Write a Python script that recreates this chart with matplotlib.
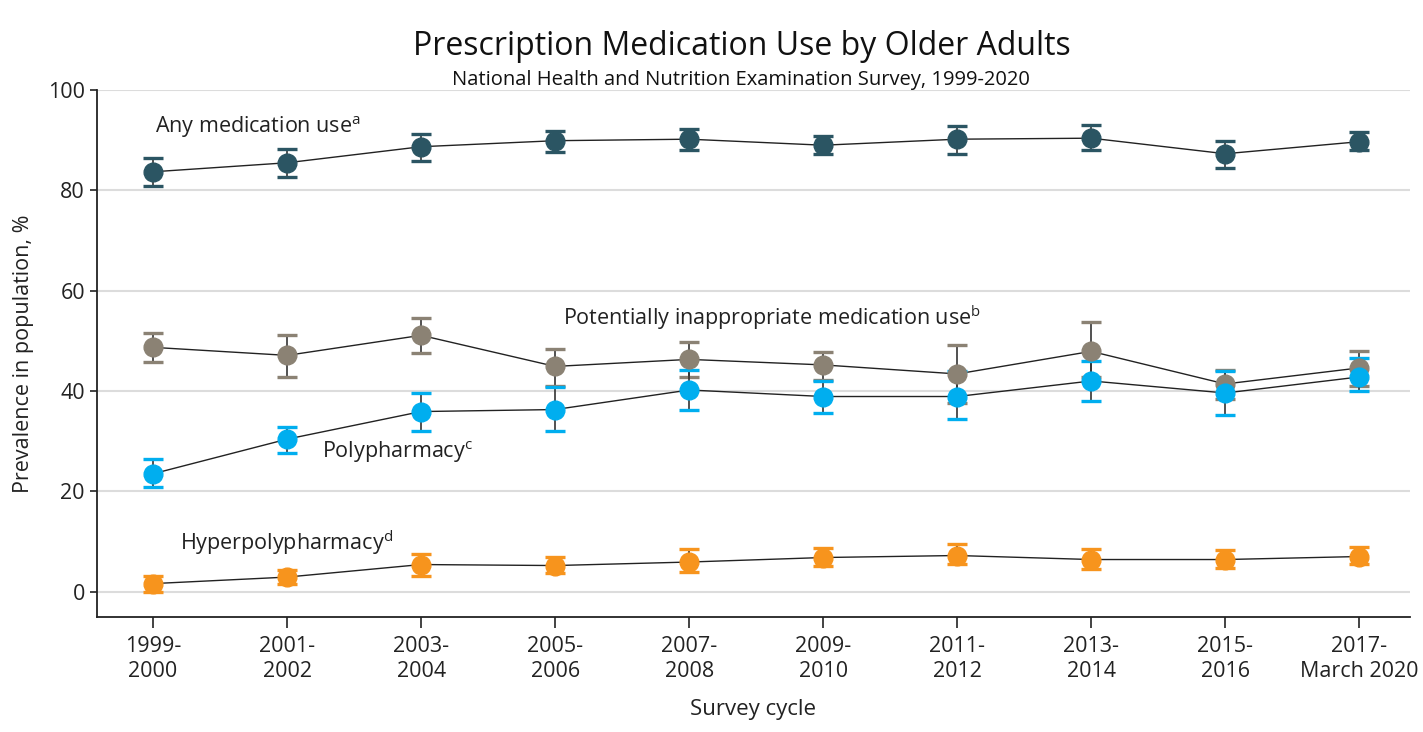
import numpy as np
import matplotlib.pyplot as plt

plt.rcParams['font.family'] = ['Open Sans', 'DejaVu Sans']
plt.rcParams['mathtext.fontset'] = 'custom'
plt.rcParams['mathtext.rm'] = 'Open Sans'

cycles = ["1999-\n2000", "2001-\n2002", "2003-\n2004", "2005-\n2006", "2007-\n2008",
          "2009-\n2010", "2011-\n2012", "2013-\n2014", "2015-\n2016", "2017-\nMarch 2020"]

any_med = [83.7, 85.5, 88.7, 89.9, 90.2, 89.0, 90.2, 90.4, 87.3, 89.7]
any_lo = [80.9, 82.7, 85.9, 87.6, 88.0, 87.2, 87.3, 88.0, 84.5, 88.0]
any_hi = [86.4, 88.2, 91.2, 91.8, 92.2, 90.8, 92.8, 93.0, 89.9, 91.6]

pim = [48.7, 47.1, 51.1, 44.9, 46.3, 45.2, 43.4, 47.9, 41.4, 44.6]
pim_lo = [45.8, 42.8, 47.5, 41.0, 42.8, 42.2, 37.7, 42.8, 38.4, 41.0]
pim_hi = [51.5, 51.1, 54.6, 48.3, 49.8, 47.8, 49.1, 53.7, 44.2, 48.0]

poly = [23.5, 30.4, 35.9, 36.3, 40.2, 38.9, 38.9, 42.0, 39.6, 42.8]
poly_lo = [20.8, 27.6, 32.1, 32.1, 36.3, 35.6, 34.4, 38.0, 35.3, 40.0]
poly_hi = [26.4, 32.9, 39.6, 40.8, 44.2, 42.0, 43.9, 46.0, 44.0, 46.5]

hyper = [1.6, 2.9, 5.4, 5.2, 5.9, 6.8, 7.2, 6.4, 6.4, 7.0]
hyper_lo = [0.0, 1.5, 3.2, 3.7, 4.0, 5.2, 5.5, 4.5, 4.8, 5.5]
hyper_hi = [3.1, 4.4, 7.5, 7.0, 8.4, 8.7, 9.5, 8.5, 8.2, 8.9]

series = [
    (any_med, any_lo, any_hi, "#2b5563"),
    (pim, pim_lo, pim_hi, "#8b8274"),
    (poly, poly_lo, poly_hi, "#00aeef"),
    (hyper, hyper_lo, hyper_hi, "#f7941d"),
]

fig = plt.figure(figsize=(14.23, 7.32), dpi=100)
ax = fig.add_axes([0.068, 0.1575, 0.923, 0.7195])
x = np.arange(len(cycles))

for vals, lo, hi, col in series:
    vals = np.array(vals)
    err = [vals - np.array(lo), np.array(hi) - vals]
    ax.plot(x, vals, color="#222222", lw=1.0, zorder=2)
    _, caps, bars = ax.errorbar(x, vals, yerr=err, fmt='none', ecolor="#333333",
                                elinewidth=1.2, capsize=7.5, capthick=2.4, zorder=3)
    for c in caps:
        c.set_markeredgecolor(col)
        c.set_markerfacecolor(col)
    ax.plot(x, vals, 'o', ms=13.5, color=col, mec=col, zorder=4)

ax.set_xlim(-0.42, 9.38)
ax.set_ylim(-5, 100)
ax.set_yticks([0, 20, 40, 60, 80, 100])
ax.set_xticks(x)
ax.set_xticklabels(cycles, fontsize=15.5, color="#222222", linespacing=1.25)
ax.tick_params(axis='y', labelsize=15.5, colors="#222222", length=5, width=1.2)
ax.tick_params(axis='x', length=8, width=1.2, colors="#222222", pad=6)
ax.grid(axis='y', color="#dcdcdc", lw=1.5)
ax.set_axisbelow(True)
for s in ['top', 'right']:
    ax.spines[s].set_visible(False)
for s in ['left', 'bottom']:
    ax.spines[s].set_color("#222222")
    ax.spines[s].set_linewidth(1.3)

ax.set_ylabel("Prevalence in population, %", fontsize=15.5, color="#222222", labelpad=10)
ax.set_xlabel("Survey cycle", fontsize=16, color="#222222", labelpad=12)

lab_kw = dict(fontsize=15.5, color="#222222", va='center', ha='left')
ax.text(0.015, 92.6, r"Any medication use$^{\mathrm{a}}$", **lab_kw)
ax.text(3.06, 54.6, r"Potentially inappropriate medication use$^{\mathrm{b}}$", **lab_kw)
ax.text(1.26, 27.9, r"Polypharmacy$^{\mathrm{c}}$", **lab_kw)
ax.text(0.2, 9.8, r"Hyperpolypharmacy$^{\mathrm{d}}$", **lab_kw)

fig.text(0.521, 0.937, "Prescription Medication Use by Older Adults", fontsize=23,
         ha='center', va='center', color="#111111")
fig.text(0.521, 0.891, "National Health and Nutrition Examination Survey, 1999-2020",
         fontsize=14.5, ha='center', va='center', color="#111111")

fig.savefig("out.png", dpi=100)
